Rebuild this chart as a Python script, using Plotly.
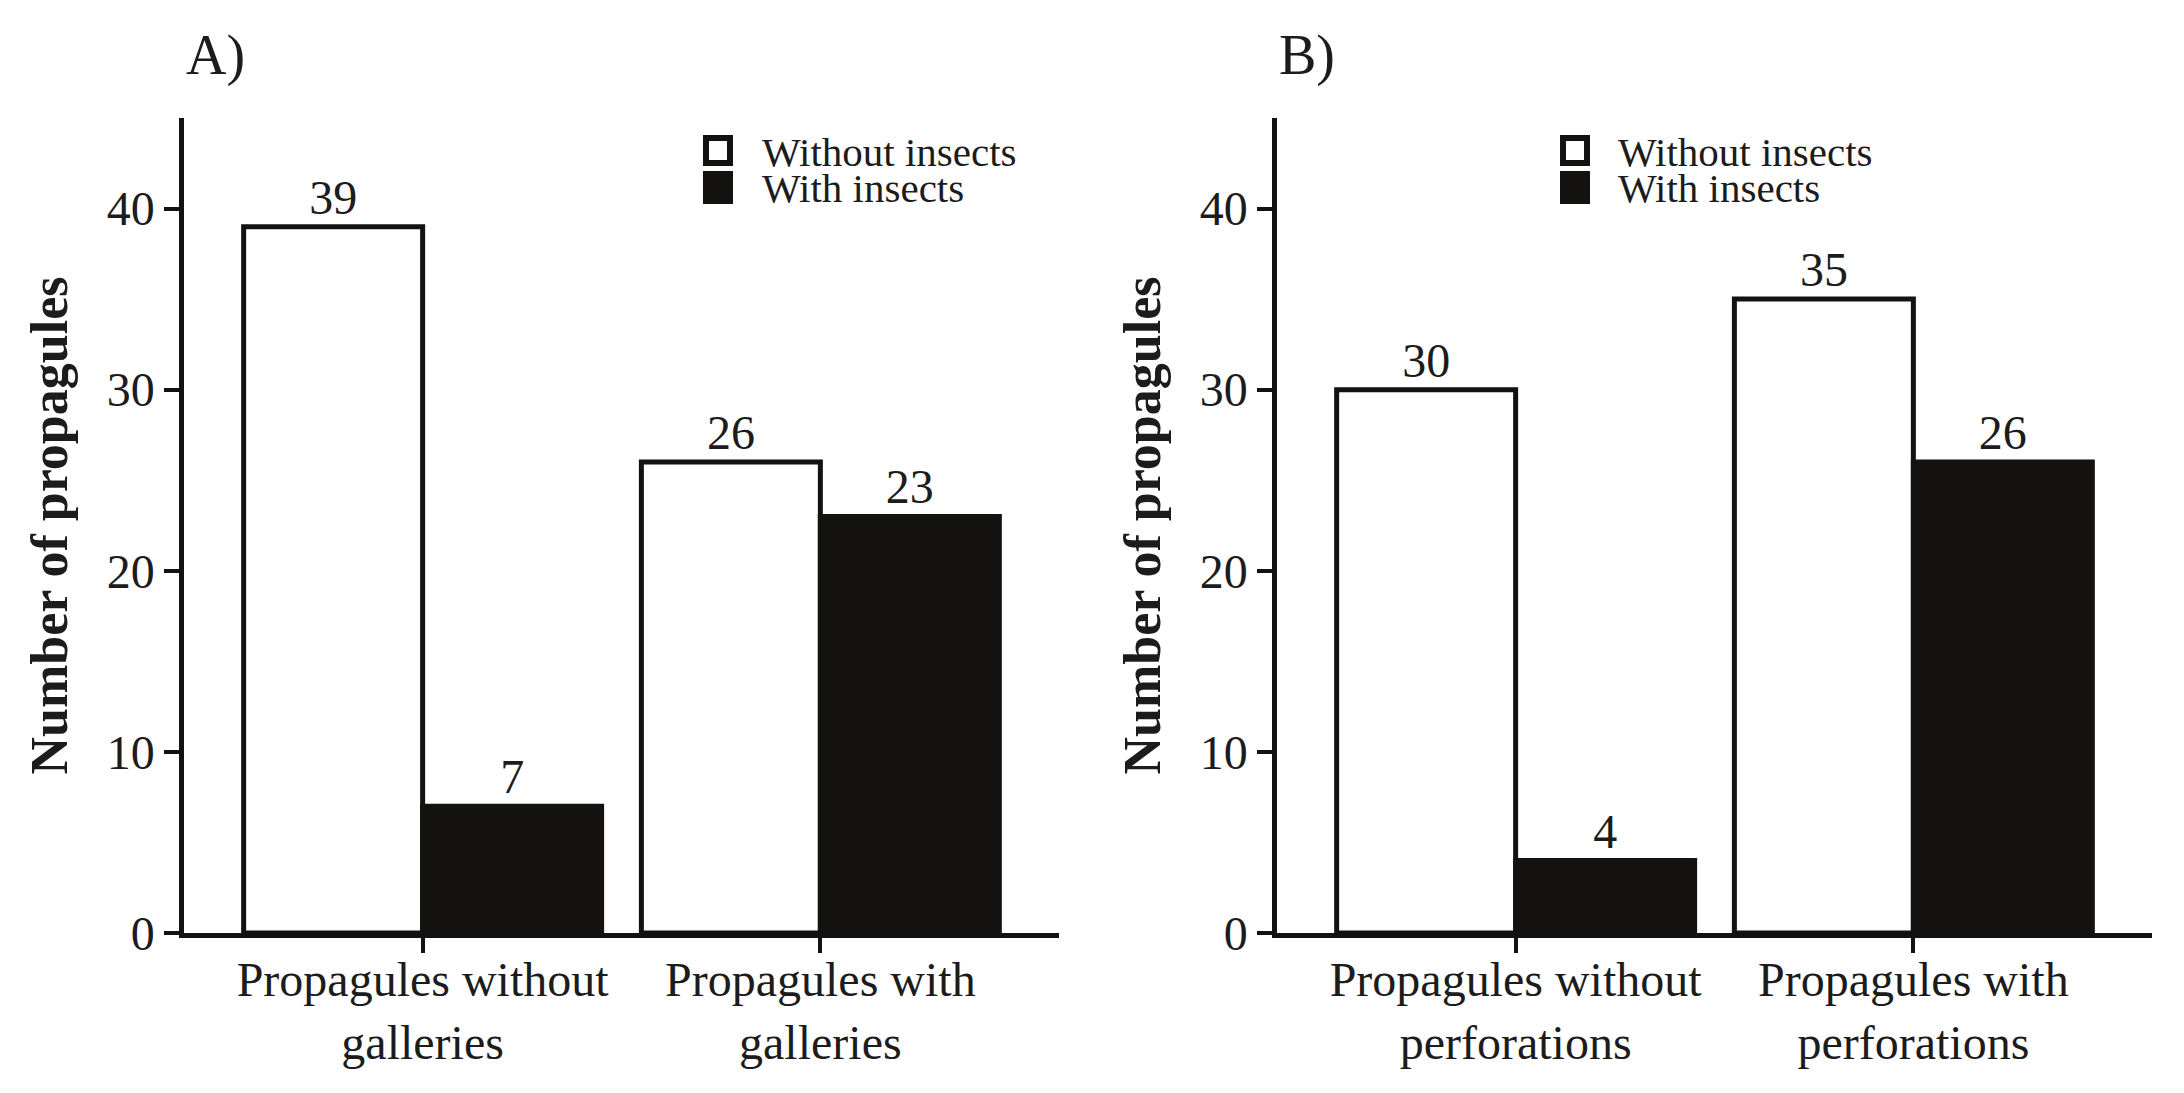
import plotly.graph_objects as go

# ---- data ----
categories_a = ["Propagules without<br>galleries", "Propagules with<br>galleries"]
categories_b = ["Propagules without<br>perforations", "Propagules with<br>perforations"]
series_names = ["Without insects", "With insects"]
a_without = [39, 26]
a_with = [7, 23]
b_without = [30, 35]
b_with = [4, 26]
y_ticks = [0, 10, 20, 30, 40]
panel_labels = ["A)", "B)"]
y_title = "Number of propagules"

W, H = 2184, 1093
FONT = "Liberation Serif, Times New Roman, serif"
BLACK = "#141210"
TXT = "#1c1c1c"

def px(x):
    return x / W

def py(y):
    return 1 - y / H

fig = go.Figure()

panels = [
    ("x", "y", categories_a, a_without, a_with),
    ("x2", "y2", categories_b, b_without, b_with),
]
for xa, ya, cats, v_wo, v_w in panels:
    fig.add_trace(go.Bar(
        x=cats, y=v_wo, name=series_names[0], xaxis=xa, yaxis=ya,
        marker=dict(color="white", line=dict(color=BLACK, width=5)),
        text=[str(v) for v in v_wo], textposition="outside",
        textfont=dict(family=FONT, size=48, color=TXT),
        cliponaxis=False, constraintext="none", showlegend=False,
    ))
    fig.add_trace(go.Bar(
        x=cats, y=v_w, name=series_names[1], xaxis=xa, yaxis=ya,
        marker=dict(color=BLACK, line=dict(color=BLACK, width=5)),
        text=[str(v) for v in v_w], textposition="outside",
        textfont=dict(family=FONT, size=48, color=TXT),
        cliponaxis=False, constraintext="none", showlegend=False,
    ))

y_dom = [py(933), py(118)]
x_doms = [[px(184), px(1059)], [px(1277), px(2152)]]

common_x = dict(
    type="category", range=[-0.6, 1.6], showline=True, linecolor=BLACK, linewidth=4.5,
    ticks="outside", ticklen=15, tickwidth=4, tickcolor=BLACK,
    tickfont=dict(family=FONT, size=48, color=TXT), showgrid=False, zeroline=False,
    fixedrange=True, automargin=False, ticklabelstandoff=-14,
)
common_y = dict(
    range=[0, 45], tickvals=y_ticks, showline=True, linecolor=BLACK, linewidth=4.5,
    ticks="outside", ticklen=15, tickwidth=4, tickcolor=BLACK,
    tickfont=dict(family=FONT, size=48, color=TXT), showgrid=False, zeroline=False,
    title=dict(text="<b>" + y_title + "</b>", font=dict(family=FONT, size=52, color=TXT), standoff=24),
    domain=y_dom, automargin=False,
)

fig.update_layout(
    width=W, height=H, margin=dict(l=0, r=0, t=0, b=0),
    paper_bgcolor="white", plot_bgcolor="white",
    barmode="group", bargap=0.1, bargroupgap=0,
    showlegend=False,
    xaxis=dict(domain=x_doms[0], anchor="y", **common_x),
    yaxis=dict(anchor="x", **common_y),
    xaxis2=dict(domain=x_doms[1], anchor="y2", **common_x),
    yaxis2=dict(anchor="x2", **common_y),
)

# panel labels
for lbl, xleft in zip(panel_labels, [184, 1277]):
    fig.add_annotation(text=lbl, x=px(xleft), y=py(55), xref="paper", yref="paper",
                       xanchor="left", yanchor="middle", showarrow=False,
                       font=dict(family=FONT, size=56, color=TXT))

# legends (manual keys)
for box_x, text_x in [(703, 760), (1560, 1616)]:
    fig.add_shape(type="rect", xref="paper", yref="paper",
                  x0=px(box_x + 3), x1=px(box_x + 27), y0=py(163), y1=py(138),
                  fillcolor="white", line=dict(color=BLACK, width=6))
    fig.add_shape(type="rect", xref="paper", yref="paper",
                  x0=px(box_x), x1=px(box_x + 30), y0=py(204), y1=py(171),
                  fillcolor=BLACK, line=dict(width=0))
    for name, yc in zip(series_names, [152, 188]):
        fig.add_annotation(text=name, x=px(text_x), y=py(yc), xref="paper", yref="paper",
                           xanchor="left", yanchor="middle", showarrow=False,
                           font=dict(family=FONT, size=41, color=TXT))

fig.write_html("out.html")
